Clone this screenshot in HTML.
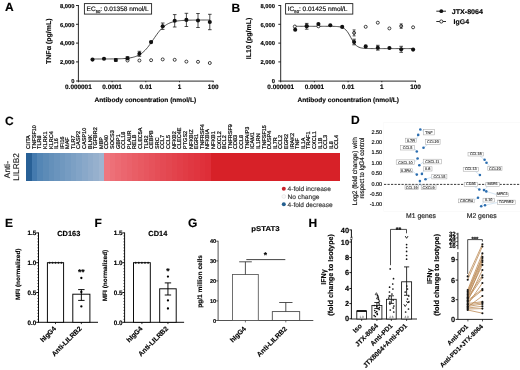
<!DOCTYPE html>
<html><head><meta charset="utf-8"><title>Figure</title>
<style>
html,body{margin:0;padding:0;background:#fff;overflow:hidden;}
svg{display:block;font-family:"Liberation Sans", Arial, sans-serif;text-rendering:geometricPrecision;}
</style></head>
<body>
<svg width="520" height="370" viewBox="0 0 520 370">
<rect width="520" height="370" fill="#fff"/>
<text x="5.10" y="11.40" font-size="12" font-weight="bold" fill="#000" stroke="#000" stroke-width="0.15">A</text>
<text x="231.40" y="11.50" font-size="12" font-weight="bold" fill="#000" stroke="#000" stroke-width="0.15">B</text>
<text x="5.00" y="124.60" font-size="12" font-weight="bold" fill="#000" stroke="#000" stroke-width="0.15">C</text>
<text x="350.90" y="124.40" font-size="12" font-weight="bold" fill="#000" stroke="#000" stroke-width="0.15">D</text>
<text x="5.10" y="227.40" font-size="12" font-weight="bold" fill="#000" stroke="#000" stroke-width="0.15">E</text>
<text x="94.60" y="227.40" font-size="12" font-weight="bold" fill="#000" stroke="#000" stroke-width="0.15">F</text>
<text x="188.10" y="227.40" font-size="12" font-weight="bold" fill="#000" stroke="#000" stroke-width="0.15">G</text>
<text x="308.50" y="227.40" font-size="12" font-weight="bold" fill="#000" stroke="#000" stroke-width="0.15">H</text>
<line x1="78.40" y1="5.00" x2="78.40" y2="81.40" stroke="#111" stroke-width="0.9"/>
<line x1="76.00" y1="5.50" x2="78.40" y2="5.50" stroke="#111" stroke-width="0.9"/>
<text x="74.50" y="7.80" font-size="5.8" font-weight="bold" text-anchor="end" stroke="#111" stroke-width="0.15">8,000</text>
<line x1="76.00" y1="24.30" x2="78.40" y2="24.30" stroke="#111" stroke-width="0.9"/>
<text x="74.50" y="26.60" font-size="5.8" font-weight="bold" text-anchor="end" stroke="#111" stroke-width="0.15">6,000</text>
<line x1="76.00" y1="43.10" x2="78.40" y2="43.10" stroke="#111" stroke-width="0.9"/>
<text x="74.50" y="45.40" font-size="5.8" font-weight="bold" text-anchor="end" stroke="#111" stroke-width="0.15">4,000</text>
<line x1="76.00" y1="61.90" x2="78.40" y2="61.90" stroke="#111" stroke-width="0.9"/>
<text x="74.50" y="64.20" font-size="5.8" font-weight="bold" text-anchor="end" stroke="#111" stroke-width="0.15">2,000</text>
<line x1="76.00" y1="81.00" x2="78.40" y2="81.00" stroke="#111" stroke-width="0.9"/>
<text x="74.50" y="83.30" font-size="5.8" font-weight="bold" text-anchor="end" stroke="#111" stroke-width="0.15">0</text>
<line x1="78.00" y1="81.10" x2="213.70" y2="81.10" stroke="#111" stroke-width="0.9"/>
<line x1="78.40" y1="81.00" x2="78.40" y2="82.30" stroke="#111" stroke-width="0.8"/>
<text x="78.40" y="88.80" font-size="6.4" font-weight="bold" text-anchor="middle" stroke="#111" stroke-width="0.15">0.000001</text>
<line x1="112.10" y1="81.00" x2="112.10" y2="82.30" stroke="#111" stroke-width="0.8"/>
<text x="112.10" y="88.80" font-size="6.4" font-weight="bold" text-anchor="middle" stroke="#111" stroke-width="0.15">0.0001</text>
<line x1="145.80" y1="81.00" x2="145.80" y2="82.30" stroke="#111" stroke-width="0.8"/>
<text x="145.80" y="88.80" font-size="6.4" font-weight="bold" text-anchor="middle" stroke="#111" stroke-width="0.15">0.01</text>
<line x1="179.50" y1="81.00" x2="179.50" y2="82.30" stroke="#111" stroke-width="0.8"/>
<text x="179.50" y="88.80" font-size="6.4" font-weight="bold" text-anchor="middle" stroke="#111" stroke-width="0.15">1</text>
<line x1="213.20" y1="81.00" x2="213.20" y2="82.30" stroke="#111" stroke-width="0.8"/>
<text x="213.20" y="88.80" font-size="6.4" font-weight="bold" text-anchor="middle" stroke="#111" stroke-width="0.15">100</text>
<text x="94.60" y="102.30" font-size="6.6" font-weight="bold" stroke="#111" stroke-width="0.15" textLength="101.5" lengthAdjust="spacingAndGlyphs">Antibody concentration (nmol/L)</text>
<text x="51.50" y="41.20" font-size="7.0" font-weight="bold" text-anchor="middle" stroke="#111" stroke-width="0.15" transform="rotate(-90 51.50 41.20)">TNFα (pg/mL)</text>
<rect x="84.40" y="3.60" width="67.20" height="10.50" fill="#fff" stroke="#222" stroke-width="0.9"/>
<text x="86.60" y="11.1" font-size="6.5" fill="#111" stroke="#111" stroke-width="0.18">EC<tspan font-size="4.2" dy="1.6">50</tspan><tspan dy="-1.6">: 0.01358 nmol/L</tspan></text>
<path d="M92.00,59.00 L93.18,59.00 L94.36,58.99 L95.54,58.99 L96.72,58.99 L97.90,58.99 L99.08,58.99 L100.26,58.99 L101.44,58.98 L102.62,58.98 L103.80,58.98 L104.98,58.97 L106.16,58.97 L107.34,58.96 L108.52,58.96 L109.70,58.95 L110.88,58.94 L112.06,58.92 L113.24,58.91 L114.42,58.89 L115.60,58.87 L116.78,58.85 L117.96,58.82 L119.14,58.78 L120.32,58.74 L121.50,58.69 L122.68,58.63 L123.86,58.55 L125.04,58.47 L126.22,58.37 L127.40,58.24 L128.58,58.10 L129.76,57.93 L130.94,57.73 L132.12,57.49 L133.30,57.20 L134.48,56.87 L135.66,56.48 L136.84,56.02 L138.02,55.49 L139.20,54.88 L140.38,54.17 L141.56,53.37 L142.74,52.45 L143.92,51.42 L145.10,50.26 L146.28,48.99 L147.46,47.61 L148.64,46.11 L149.82,44.53 L151.00,42.86 L152.18,41.15 L153.36,39.41 L154.54,37.67 L155.72,35.96 L156.90,34.31 L158.08,32.73 L159.26,31.25 L160.44,29.87 L161.62,28.61 L162.80,27.47 L163.98,26.45 L165.16,25.55 L166.34,24.75 L167.52,24.05 L168.70,23.45 L169.88,22.93 L171.06,22.48 L172.24,22.09 L173.42,21.77 L174.60,21.49 L175.78,21.25 L176.96,21.05 L178.14,20.88 L179.32,20.74 L180.50,20.62 L181.68,20.52 L182.86,20.44 L184.04,20.37 L185.22,20.31 L186.40,20.26 L187.58,20.22 L188.76,20.18 L189.94,20.15 L191.12,20.13 L192.30,20.11 L193.48,20.09 L194.66,20.07 L195.84,20.06 L197.02,20.05 L198.20,20.04 L199.38,20.04 L200.56,20.03 L201.74,20.03 L202.92,20.02 L204.10,20.02 L205.28,20.01 L206.46,20.01 L207.64,20.01 L208.82,20.01 L210.00,20.01" fill="none" stroke="#222" stroke-width="0.8"/>
<circle cx="127.50" cy="60.50" r="1.5" fill="#fff" stroke="#111" stroke-width="0.8"/>
<circle cx="139.40" cy="60.50" r="1.5" fill="#fff" stroke="#111" stroke-width="0.8"/>
<circle cx="151.10" cy="60.20" r="1.5" fill="#fff" stroke="#111" stroke-width="0.8"/>
<circle cx="162.70" cy="59.40" r="1.5" fill="#fff" stroke="#111" stroke-width="0.8"/>
<circle cx="174.70" cy="59.80" r="1.5" fill="#fff" stroke="#111" stroke-width="0.8"/>
<circle cx="186.40" cy="61.60" r="1.5" fill="#fff" stroke="#111" stroke-width="0.8"/>
<circle cx="198.00" cy="61.80" r="1.5" fill="#fff" stroke="#111" stroke-width="0.8"/>
<circle cx="209.80" cy="63.00" r="1.5" fill="#fff" stroke="#111" stroke-width="0.8"/>
<line x1="115.80" y1="58.70" x2="115.80" y2="61.30" stroke="#111" stroke-width="0.75"/>
<line x1="114.00" y1="58.70" x2="117.60" y2="58.70" stroke="#111" stroke-width="0.75"/>
<line x1="114.00" y1="61.30" x2="117.60" y2="61.30" stroke="#111" stroke-width="0.75"/>
<line x1="127.50" y1="56.70" x2="127.50" y2="59.70" stroke="#111" stroke-width="0.75"/>
<line x1="125.70" y1="56.70" x2="129.30" y2="56.70" stroke="#111" stroke-width="0.75"/>
<line x1="125.70" y1="59.70" x2="129.30" y2="59.70" stroke="#111" stroke-width="0.75"/>
<line x1="139.40" y1="51.30" x2="139.40" y2="56.30" stroke="#111" stroke-width="0.75"/>
<line x1="137.60" y1="51.30" x2="141.20" y2="51.30" stroke="#111" stroke-width="0.75"/>
<line x1="137.60" y1="56.30" x2="141.20" y2="56.30" stroke="#111" stroke-width="0.75"/>
<line x1="151.10" y1="41.30" x2="151.10" y2="42.90" stroke="#111" stroke-width="0.75"/>
<line x1="149.30" y1="41.30" x2="152.90" y2="41.30" stroke="#111" stroke-width="0.75"/>
<line x1="149.30" y1="42.90" x2="152.90" y2="42.90" stroke="#111" stroke-width="0.75"/>
<line x1="162.70" y1="23.00" x2="162.70" y2="29.40" stroke="#111" stroke-width="0.75"/>
<line x1="160.90" y1="23.00" x2="164.50" y2="23.00" stroke="#111" stroke-width="0.75"/>
<line x1="160.90" y1="29.40" x2="164.50" y2="29.40" stroke="#111" stroke-width="0.75"/>
<line x1="174.70" y1="14.60" x2="174.70" y2="27.00" stroke="#111" stroke-width="0.75"/>
<line x1="172.90" y1="14.60" x2="176.50" y2="14.60" stroke="#111" stroke-width="0.75"/>
<line x1="172.90" y1="27.00" x2="176.50" y2="27.00" stroke="#111" stroke-width="0.75"/>
<line x1="186.40" y1="13.30" x2="186.40" y2="26.50" stroke="#111" stroke-width="0.75"/>
<line x1="184.60" y1="13.30" x2="188.20" y2="13.30" stroke="#111" stroke-width="0.75"/>
<line x1="184.60" y1="26.50" x2="188.20" y2="26.50" stroke="#111" stroke-width="0.75"/>
<line x1="198.00" y1="13.50" x2="198.00" y2="27.50" stroke="#111" stroke-width="0.75"/>
<line x1="196.20" y1="13.50" x2="199.80" y2="13.50" stroke="#111" stroke-width="0.75"/>
<line x1="196.20" y1="27.50" x2="199.80" y2="27.50" stroke="#111" stroke-width="0.75"/>
<line x1="209.80" y1="14.30" x2="209.80" y2="29.70" stroke="#111" stroke-width="0.75"/>
<line x1="208.00" y1="14.30" x2="211.60" y2="14.30" stroke="#111" stroke-width="0.75"/>
<line x1="208.00" y1="29.70" x2="211.60" y2="29.70" stroke="#111" stroke-width="0.75"/>
<circle cx="92.50" cy="59.60" r="2.05" fill="#111" stroke="none" stroke-width="1"/>
<circle cx="104.00" cy="58.80" r="2.05" fill="#111" stroke="none" stroke-width="1"/>
<circle cx="115.80" cy="60.00" r="2.05" fill="#111" stroke="none" stroke-width="1"/>
<circle cx="127.50" cy="58.20" r="2.05" fill="#111" stroke="none" stroke-width="1"/>
<circle cx="139.40" cy="53.80" r="2.05" fill="#111" stroke="none" stroke-width="1"/>
<circle cx="151.10" cy="42.10" r="2.05" fill="#111" stroke="none" stroke-width="1"/>
<circle cx="162.70" cy="26.20" r="2.05" fill="#111" stroke="none" stroke-width="1"/>
<circle cx="174.70" cy="20.80" r="2.05" fill="#111" stroke="none" stroke-width="1"/>
<circle cx="186.40" cy="19.90" r="2.05" fill="#111" stroke="none" stroke-width="1"/>
<circle cx="198.00" cy="20.50" r="2.05" fill="#111" stroke="none" stroke-width="1"/>
<circle cx="209.80" cy="22.00" r="2.05" fill="#111" stroke="none" stroke-width="1"/>
<line x1="280.70" y1="5.00" x2="280.70" y2="81.40" stroke="#111" stroke-width="0.9"/>
<line x1="278.30" y1="5.50" x2="280.70" y2="5.50" stroke="#111" stroke-width="0.9"/>
<text x="274.90" y="7.80" font-size="5.8" font-weight="bold" text-anchor="end" stroke="#111" stroke-width="0.15">8,000</text>
<line x1="278.30" y1="24.30" x2="280.70" y2="24.30" stroke="#111" stroke-width="0.9"/>
<text x="274.90" y="26.60" font-size="5.8" font-weight="bold" text-anchor="end" stroke="#111" stroke-width="0.15">6,000</text>
<line x1="278.30" y1="43.10" x2="280.70" y2="43.10" stroke="#111" stroke-width="0.9"/>
<text x="274.90" y="45.40" font-size="5.8" font-weight="bold" text-anchor="end" stroke="#111" stroke-width="0.15">4,000</text>
<line x1="278.30" y1="61.90" x2="280.70" y2="61.90" stroke="#111" stroke-width="0.9"/>
<text x="274.90" y="64.20" font-size="5.8" font-weight="bold" text-anchor="end" stroke="#111" stroke-width="0.15">2,000</text>
<line x1="278.30" y1="81.00" x2="280.70" y2="81.00" stroke="#111" stroke-width="0.9"/>
<text x="274.90" y="83.30" font-size="5.8" font-weight="bold" text-anchor="end" stroke="#111" stroke-width="0.15">0</text>
<line x1="280.30" y1="81.10" x2="416.00" y2="81.10" stroke="#111" stroke-width="0.9"/>
<line x1="280.70" y1="81.00" x2="280.70" y2="82.30" stroke="#111" stroke-width="0.8"/>
<text x="280.70" y="88.80" font-size="6.4" font-weight="bold" text-anchor="middle" stroke="#111" stroke-width="0.15">0.000001</text>
<line x1="314.40" y1="81.00" x2="314.40" y2="82.30" stroke="#111" stroke-width="0.8"/>
<text x="314.40" y="88.80" font-size="6.4" font-weight="bold" text-anchor="middle" stroke="#111" stroke-width="0.15">0.0001</text>
<line x1="348.10" y1="81.00" x2="348.10" y2="82.30" stroke="#111" stroke-width="0.8"/>
<text x="348.10" y="88.80" font-size="6.4" font-weight="bold" text-anchor="middle" stroke="#111" stroke-width="0.15">0.01</text>
<line x1="381.80" y1="81.00" x2="381.80" y2="82.30" stroke="#111" stroke-width="0.8"/>
<text x="381.80" y="88.80" font-size="6.4" font-weight="bold" text-anchor="middle" stroke="#111" stroke-width="0.15">1</text>
<line x1="415.50" y1="81.00" x2="415.50" y2="82.30" stroke="#111" stroke-width="0.8"/>
<text x="415.50" y="88.80" font-size="6.4" font-weight="bold" text-anchor="middle" stroke="#111" stroke-width="0.15">100</text>
<text x="297.50" y="102.30" font-size="6.6" font-weight="bold" stroke="#111" stroke-width="0.15" textLength="101.5" lengthAdjust="spacingAndGlyphs">Antibody concentration (nmol/L)</text>
<text x="250.60" y="38.40" font-size="7.0" font-weight="bold" text-anchor="middle" stroke="#111" stroke-width="0.15" transform="rotate(-90 250.60 38.40)">IL10 (pg/mL)</text>
<rect x="285.60" y="3.60" width="67.20" height="10.50" fill="#fff" stroke="#222" stroke-width="0.9"/>
<text x="287.80" y="11.1" font-size="6.5" fill="#111" stroke="#111" stroke-width="0.18">IC<tspan font-size="4.2" dy="1.6">50</tspan><tspan dy="-1.6">: 0.01425 nmol/L</tspan></text>
<path d="M295.00,26.30 L296.19,26.30 L297.37,26.30 L298.56,26.30 L299.74,26.30 L300.93,26.30 L302.11,26.30 L303.30,26.30 L304.48,26.30 L305.67,26.30 L306.85,26.30 L308.04,26.30 L309.22,26.30 L310.40,26.30 L311.59,26.30 L312.77,26.30 L313.96,26.30 L315.14,26.30 L316.33,26.30 L317.51,26.30 L318.70,26.30 L319.88,26.30 L321.07,26.30 L322.25,26.30 L323.44,26.30 L324.62,26.30 L325.81,26.31 L327.00,26.31 L328.18,26.31 L329.37,26.32 L330.55,26.33 L331.74,26.34 L332.92,26.36 L334.11,26.39 L335.29,26.43 L336.48,26.49 L337.66,26.58 L338.85,26.71 L340.03,26.90 L341.22,27.18 L342.40,27.58 L343.58,28.15 L344.77,28.93 L345.95,30.00 L347.14,31.38 L348.32,33.09 L349.51,35.09 L350.69,37.25 L351.88,39.44 L353.06,41.47 L354.25,43.24 L355.44,44.68 L356.62,45.80 L357.81,46.63 L358.99,47.23 L360.18,47.66 L361.36,47.96 L362.55,48.16 L363.73,48.30 L364.92,48.40 L366.10,48.46 L367.28,48.51 L368.47,48.54 L369.65,48.56 L370.84,48.57 L372.02,48.58 L373.21,48.59 L374.39,48.59 L375.58,48.59 L376.76,48.60 L377.95,48.60 L379.13,48.60 L380.32,48.60 L381.50,48.60 L382.69,48.60 L383.88,48.60 L385.06,48.60 L386.25,48.60 L387.43,48.60 L388.62,48.60 L389.80,48.60 L390.99,48.60 L392.17,48.60 L393.36,48.60 L394.54,48.60 L395.73,48.60 L396.91,48.60 L398.10,48.60 L399.28,48.60 L400.47,48.60 L401.65,48.60 L402.83,48.60 L404.02,48.60 L405.20,48.60 L406.39,48.60 L407.57,48.60 L408.76,48.60 L409.94,48.60 L411.13,48.60 L412.31,48.60 L413.50,48.60" fill="none" stroke="#222" stroke-width="0.8"/>
<circle cx="294.80" cy="26.50" r="1.5" fill="#fff" stroke="#111" stroke-width="0.8"/>
<circle cx="306.70" cy="25.50" r="1.5" fill="#fff" stroke="#111" stroke-width="0.8"/>
<circle cx="318.40" cy="26.30" r="1.5" fill="#fff" stroke="#111" stroke-width="0.8"/>
<circle cx="354.10" cy="32.90" r="1.5" fill="#fff" stroke="#111" stroke-width="0.8"/>
<circle cx="365.70" cy="26.80" r="1.5" fill="#fff" stroke="#111" stroke-width="0.8"/>
<circle cx="377.80" cy="22.70" r="1.5" fill="#fff" stroke="#111" stroke-width="0.8"/>
<circle cx="389.40" cy="28.40" r="1.5" fill="#fff" stroke="#111" stroke-width="0.8"/>
<circle cx="401.20" cy="26.10" r="1.5" fill="#fff" stroke="#111" stroke-width="0.8"/>
<circle cx="413.10" cy="27.30" r="1.5" fill="#fff" stroke="#111" stroke-width="0.8"/>
<line x1="354.10" y1="29.90" x2="354.10" y2="35.90" stroke="#111" stroke-width="0.7"/>
<line x1="352.60" y1="29.90" x2="355.60" y2="29.90" stroke="#111" stroke-width="0.7"/>
<line x1="352.60" y1="35.90" x2="355.60" y2="35.90" stroke="#111" stroke-width="0.7"/>
<line x1="401.20" y1="23.90" x2="401.20" y2="28.30" stroke="#111" stroke-width="0.7"/>
<line x1="399.70" y1="23.90" x2="402.70" y2="23.90" stroke="#111" stroke-width="0.7"/>
<line x1="399.70" y1="28.30" x2="402.70" y2="28.30" stroke="#111" stroke-width="0.7"/>
<line x1="306.70" y1="23.40" x2="306.70" y2="29.20" stroke="#111" stroke-width="0.75"/>
<line x1="304.90" y1="23.40" x2="308.50" y2="23.40" stroke="#111" stroke-width="0.75"/>
<line x1="304.90" y1="29.20" x2="308.50" y2="29.20" stroke="#111" stroke-width="0.75"/>
<line x1="354.10" y1="39.20" x2="354.10" y2="44.80" stroke="#111" stroke-width="0.75"/>
<line x1="352.30" y1="39.20" x2="355.90" y2="39.20" stroke="#111" stroke-width="0.75"/>
<line x1="352.30" y1="44.80" x2="355.90" y2="44.80" stroke="#111" stroke-width="0.75"/>
<line x1="377.80" y1="45.30" x2="377.80" y2="50.10" stroke="#111" stroke-width="0.75"/>
<line x1="376.00" y1="45.30" x2="379.60" y2="45.30" stroke="#111" stroke-width="0.75"/>
<line x1="376.00" y1="50.10" x2="379.60" y2="50.10" stroke="#111" stroke-width="0.75"/>
<line x1="401.20" y1="46.30" x2="401.20" y2="52.30" stroke="#111" stroke-width="0.75"/>
<line x1="399.40" y1="46.30" x2="403.00" y2="46.30" stroke="#111" stroke-width="0.75"/>
<line x1="399.40" y1="52.30" x2="403.00" y2="52.30" stroke="#111" stroke-width="0.75"/>
<circle cx="295.20" cy="29.80" r="2.05" fill="#111" stroke="none" stroke-width="1"/>
<circle cx="306.70" cy="26.30" r="2.05" fill="#111" stroke="none" stroke-width="1"/>
<circle cx="318.40" cy="24.00" r="2.05" fill="#111" stroke="none" stroke-width="1"/>
<circle cx="330.30" cy="25.20" r="2.05" fill="#111" stroke="none" stroke-width="1"/>
<circle cx="342.20" cy="26.90" r="2.05" fill="#111" stroke="none" stroke-width="1"/>
<circle cx="354.10" cy="42.00" r="2.05" fill="#111" stroke="none" stroke-width="1"/>
<circle cx="365.70" cy="46.40" r="2.05" fill="#111" stroke="none" stroke-width="1"/>
<circle cx="377.80" cy="47.70" r="2.05" fill="#111" stroke="none" stroke-width="1"/>
<circle cx="389.40" cy="48.00" r="2.05" fill="#111" stroke="none" stroke-width="1"/>
<circle cx="401.20" cy="49.30" r="2.05" fill="#111" stroke="none" stroke-width="1"/>
<circle cx="413.10" cy="49.60" r="2.05" fill="#111" stroke="none" stroke-width="1"/>
<line x1="436.30" y1="11.20" x2="446.00" y2="11.20" stroke="#111" stroke-width="0.9"/>
<circle cx="441.30" cy="11.20" r="1.9" fill="#111" stroke="none" stroke-width="1"/>
<text x="451.70" y="13.50" font-size="6.8" font-weight="bold" stroke="#111" stroke-width="0.15" textLength="31.3" lengthAdjust="spacingAndGlyphs">JTX-8064</text>
<line x1="436.30" y1="21.50" x2="446.00" y2="21.50" stroke="#111" stroke-width="0.9"/>
<circle cx="441.30" cy="21.50" r="1.6" fill="#fff" stroke="#111" stroke-width="0.8"/>
<text x="453.60" y="23.80" font-size="6.8" font-weight="bold" stroke="#111" stroke-width="0.15" textLength="15.4" lengthAdjust="spacingAndGlyphs">IgG4</text>
<rect x="26.25" y="153.2" width="6.17" height="27.40" fill="rgb(40, 96, 150)" shape-rendering="crispEdges"/>
<rect x="31.82" y="153.2" width="6.17" height="27.40" fill="rgb(68, 122, 174)" shape-rendering="crispEdges"/>
<rect x="37.39" y="153.2" width="6.17" height="27.40" fill="rgb(84, 134, 181)" shape-rendering="crispEdges"/>
<rect x="42.95" y="153.2" width="6.17" height="27.40" fill="rgb(92, 139, 183)" shape-rendering="crispEdges"/>
<rect x="48.52" y="153.2" width="6.17" height="27.40" fill="rgb(100, 144, 186)" shape-rendering="crispEdges"/>
<rect x="54.09" y="153.2" width="6.17" height="27.40" fill="rgb(106, 148, 189)" shape-rendering="crispEdges"/>
<rect x="59.66" y="153.2" width="6.17" height="27.40" fill="rgb(112, 152, 191)" shape-rendering="crispEdges"/>
<rect x="65.22" y="153.2" width="6.17" height="27.40" fill="rgb(118, 156, 194)" shape-rendering="crispEdges"/>
<rect x="70.79" y="153.2" width="6.17" height="27.40" fill="rgb(124, 160, 196)" shape-rendering="crispEdges"/>
<rect x="76.36" y="153.2" width="6.17" height="27.40" fill="rgb(130, 164, 199)" shape-rendering="crispEdges"/>
<rect x="81.93" y="153.2" width="6.17" height="27.40" fill="rgb(137, 168, 201)" shape-rendering="crispEdges"/>
<rect x="87.50" y="153.2" width="6.17" height="27.40" fill="rgb(144, 172, 203)" shape-rendering="crispEdges"/>
<rect x="93.06" y="153.2" width="6.17" height="27.40" fill="rgb(150, 176, 205)" shape-rendering="crispEdges"/>
<rect x="98.63" y="153.2" width="6.17" height="27.40" fill="rgb(158, 181, 208)" shape-rendering="crispEdges"/>
<rect x="104.20" y="153.2" width="6.21" height="27.40" fill="rgb(238, 118, 126)" shape-rendering="crispEdges"/>
<rect x="109.81" y="153.2" width="6.21" height="27.40" fill="rgb(237, 112, 120)" shape-rendering="crispEdges"/>
<rect x="115.43" y="153.2" width="6.21" height="27.40" fill="rgb(236, 107, 115)" shape-rendering="crispEdges"/>
<rect x="121.04" y="153.2" width="6.21" height="27.40" fill="rgb(235, 102, 111)" shape-rendering="crispEdges"/>
<rect x="126.66" y="153.2" width="6.21" height="27.40" fill="rgb(234, 98, 107)" shape-rendering="crispEdges"/>
<rect x="132.27" y="153.2" width="6.21" height="27.40" fill="rgb(233, 94, 102)" shape-rendering="crispEdges"/>
<rect x="137.89" y="153.2" width="6.21" height="27.40" fill="rgb(232, 90, 98)" shape-rendering="crispEdges"/>
<rect x="143.50" y="153.2" width="6.21" height="27.40" fill="rgb(231, 86, 95)" shape-rendering="crispEdges"/>
<rect x="149.11" y="153.2" width="6.21" height="27.40" fill="rgb(230, 82, 91)" shape-rendering="crispEdges"/>
<rect x="154.73" y="153.2" width="6.21" height="27.40" fill="rgb(229, 78, 87)" shape-rendering="crispEdges"/>
<rect x="160.34" y="153.2" width="6.21" height="27.40" fill="rgb(228, 74, 84)" shape-rendering="crispEdges"/>
<rect x="165.96" y="153.2" width="6.21" height="27.40" fill="rgb(227, 71, 80)" shape-rendering="crispEdges"/>
<rect x="171.57" y="153.2" width="6.21" height="27.40" fill="rgb(227, 67, 76)" shape-rendering="crispEdges"/>
<rect x="177.19" y="153.2" width="6.21" height="27.40" fill="rgb(226, 63, 73)" shape-rendering="crispEdges"/>
<rect x="182.80" y="153.2" width="6.21" height="27.40" fill="rgb(225, 60, 69)" shape-rendering="crispEdges"/>
<rect x="188.41" y="153.2" width="6.21" height="27.40" fill="rgb(224, 56, 66)" shape-rendering="crispEdges"/>
<rect x="194.03" y="153.2" width="6.21" height="27.40" fill="rgb(224, 53, 63)" shape-rendering="crispEdges"/>
<rect x="199.64" y="153.2" width="6.21" height="27.40" fill="rgb(223, 49, 59)" shape-rendering="crispEdges"/>
<rect x="205.26" y="153.2" width="6.21" height="27.40" fill="rgb(222, 46, 56)" shape-rendering="crispEdges"/>
<rect x="210.87" y="153.2" width="6.21" height="27.40" fill="rgb(215, 33, 40)" shape-rendering="crispEdges"/>
<rect x="216.49" y="153.2" width="6.21" height="27.40" fill="rgb(215, 33, 40)" shape-rendering="crispEdges"/>
<rect x="222.10" y="153.2" width="6.21" height="27.40" fill="rgb(215, 33, 40)" shape-rendering="crispEdges"/>
<rect x="227.71" y="153.2" width="6.21" height="27.40" fill="rgb(215, 33, 40)" shape-rendering="crispEdges"/>
<rect x="233.33" y="153.2" width="6.21" height="27.40" fill="rgb(215, 33, 40)" shape-rendering="crispEdges"/>
<rect x="238.94" y="153.2" width="6.21" height="27.40" fill="rgb(215, 33, 40)" shape-rendering="crispEdges"/>
<rect x="244.56" y="153.2" width="6.21" height="27.40" fill="rgb(215, 33, 40)" shape-rendering="crispEdges"/>
<rect x="250.17" y="153.2" width="6.21" height="27.40" fill="rgb(215, 33, 40)" shape-rendering="crispEdges"/>
<rect x="255.79" y="153.2" width="6.21" height="27.40" fill="rgb(215, 33, 40)" shape-rendering="crispEdges"/>
<rect x="261.40" y="153.2" width="6.21" height="27.40" fill="rgb(215, 33, 40)" shape-rendering="crispEdges"/>
<rect x="267.01" y="153.2" width="6.21" height="27.40" fill="rgb(215, 33, 40)" shape-rendering="crispEdges"/>
<rect x="272.63" y="153.2" width="6.21" height="27.40" fill="rgb(215, 33, 40)" shape-rendering="crispEdges"/>
<rect x="278.24" y="153.2" width="6.21" height="27.40" fill="rgb(215, 33, 40)" shape-rendering="crispEdges"/>
<rect x="283.86" y="153.2" width="6.21" height="27.40" fill="rgb(215, 33, 40)" shape-rendering="crispEdges"/>
<rect x="289.47" y="153.2" width="6.21" height="27.40" fill="rgb(215, 33, 40)" shape-rendering="crispEdges"/>
<rect x="295.09" y="153.2" width="6.21" height="27.40" fill="rgb(215, 33, 40)" shape-rendering="crispEdges"/>
<rect x="300.70" y="153.2" width="6.21" height="27.40" fill="rgb(215, 33, 40)" shape-rendering="crispEdges"/>
<rect x="306.31" y="153.2" width="6.21" height="27.40" fill="rgb(215, 33, 40)" shape-rendering="crispEdges"/>
<rect x="311.93" y="153.2" width="6.21" height="27.40" fill="rgb(215, 33, 40)" shape-rendering="crispEdges"/>
<rect x="317.54" y="153.2" width="6.21" height="27.40" fill="rgb(215, 33, 40)" shape-rendering="crispEdges"/>
<rect x="323.16" y="153.2" width="6.21" height="27.40" fill="rgb(215, 33, 40)" shape-rendering="crispEdges"/>
<rect x="328.77" y="153.2" width="6.21" height="27.40" fill="rgb(215, 33, 40)" shape-rendering="crispEdges"/>
<rect x="334.39" y="153.2" width="5.61" height="27.40" fill="rgb(215, 33, 40)" shape-rendering="crispEdges"/>
<text x="30.33" y="148.90" font-size="5.5" stroke="#111" stroke-width="0.22" transform="rotate(-90 30.33 148.90)">CIITA</text>
<text x="35.90" y="148.90" font-size="5.5" stroke="#111" stroke-width="0.22" transform="rotate(-90 35.90 148.90)">TNFSF10</text>
<text x="41.47" y="148.90" font-size="5.5" stroke="#111" stroke-width="0.22" transform="rotate(-90 41.47 148.90)">TLR8</text>
<text x="47.04" y="148.90" font-size="5.5" stroke="#111" stroke-width="0.22" transform="rotate(-90 47.04 148.90)">KLRK1</text>
<text x="52.61" y="148.90" font-size="5.5" stroke="#111" stroke-width="0.22" transform="rotate(-90 52.61 148.90)">KLRC4</text>
<text x="58.17" y="148.90" font-size="5.5" stroke="#111" stroke-width="0.22" transform="rotate(-90 58.17 148.90)">IL16</text>
<text x="63.74" y="148.90" font-size="5.5" stroke="#111" stroke-width="0.22" transform="rotate(-90 63.74 148.90)">IFI16</text>
<text x="69.31" y="148.90" font-size="5.5" stroke="#111" stroke-width="0.22" transform="rotate(-90 69.31 148.90)">MAF</text>
<text x="74.88" y="148.90" font-size="5.5" stroke="#111" stroke-width="0.22" transform="rotate(-90 74.88 148.90)">TLR7</text>
<text x="80.44" y="148.90" font-size="5.5" stroke="#111" stroke-width="0.22" transform="rotate(-90 80.44 148.90)">CASP2</text>
<text x="86.01" y="148.90" font-size="5.5" stroke="#111" stroke-width="0.22" transform="rotate(-90 86.01 148.90)">CASP10</text>
<text x="91.58" y="148.90" font-size="5.5" stroke="#111" stroke-width="0.22" transform="rotate(-90 91.58 148.90)">BLNK</text>
<text x="97.15" y="148.90" font-size="5.5" stroke="#111" stroke-width="0.22" transform="rotate(-90 97.15 148.90)">TGFBR2</text>
<text x="102.72" y="148.90" font-size="5.5" stroke="#111" stroke-width="0.22" transform="rotate(-90 102.72 148.90)">MBP</text>
<text x="108.31" y="148.90" font-size="5.5" stroke="#111" stroke-width="0.22" transform="rotate(-90 108.31 148.90)">CD40</text>
<text x="113.92" y="148.90" font-size="5.5" stroke="#111" stroke-width="0.22" transform="rotate(-90 113.92 148.90)">SOCS3</text>
<text x="119.54" y="148.90" font-size="5.5" stroke="#111" stroke-width="0.22" transform="rotate(-90 119.54 148.90)">GBP1</text>
<text x="125.15" y="148.90" font-size="5.5" stroke="#111" stroke-width="0.22" transform="rotate(-90 125.15 148.90)">CCL18</text>
<text x="130.76" y="148.90" font-size="5.5" stroke="#111" stroke-width="0.22" transform="rotate(-90 130.76 148.90)">PLAUR</text>
<text x="136.38" y="148.90" font-size="5.5" stroke="#111" stroke-width="0.22" transform="rotate(-90 136.38 148.90)">RELB</text>
<text x="141.99" y="148.90" font-size="5.5" stroke="#111" stroke-width="0.22" transform="rotate(-90 141.99 148.90)">CLEC5A</text>
<text x="147.61" y="148.90" font-size="5.5" stroke="#111" stroke-width="0.22" transform="rotate(-90 147.61 148.90)">TLR2</text>
<text x="153.22" y="148.90" font-size="5.5" stroke="#111" stroke-width="0.22" transform="rotate(-90 153.22 148.90)">CEBPB</text>
<text x="158.84" y="148.90" font-size="5.5" stroke="#111" stroke-width="0.22" transform="rotate(-90 158.84 148.90)">SRC</text>
<text x="164.45" y="148.90" font-size="5.5" stroke="#111" stroke-width="0.22" transform="rotate(-90 164.45 148.90)">CCL7</text>
<text x="170.06" y="148.90" font-size="5.5" stroke="#111" stroke-width="0.22" transform="rotate(-90 170.06 148.90)">CCL5</text>
<text x="175.68" y="148.90" font-size="5.5" stroke="#111" stroke-width="0.22" transform="rotate(-90 175.68 148.90)">NFKB2</text>
<text x="181.29" y="148.90" font-size="5.5" stroke="#111" stroke-width="0.22" transform="rotate(-90 181.29 148.90)">CLEC4E</text>
<text x="186.91" y="148.90" font-size="5.5" stroke="#111" stroke-width="0.22" transform="rotate(-90 186.91 148.90)">PTGS2</text>
<text x="192.52" y="148.90" font-size="5.5" stroke="#111" stroke-width="0.22" transform="rotate(-90 192.52 148.90)">NFKBIZ</text>
<text x="198.14" y="148.90" font-size="5.5" stroke="#111" stroke-width="0.22" transform="rotate(-90 198.14 148.90)">EGR1</text>
<text x="203.75" y="148.90" font-size="5.5" stroke="#111" stroke-width="0.22" transform="rotate(-90 203.75 148.90)">TNFRSF4</text>
<text x="209.36" y="148.90" font-size="5.5" stroke="#111" stroke-width="0.22" transform="rotate(-90 209.36 148.90)">NFKBIA</text>
<text x="214.98" y="148.90" font-size="5.5" stroke="#111" stroke-width="0.22" transform="rotate(-90 214.98 148.90)">NFKB1</text>
<text x="220.59" y="148.90" font-size="5.5" stroke="#111" stroke-width="0.22" transform="rotate(-90 220.59 148.90)">CXCL2</text>
<text x="226.21" y="148.90" font-size="5.5" stroke="#111" stroke-width="0.22" transform="rotate(-90 226.21 148.90)">BCL2</text>
<text x="231.82" y="148.90" font-size="5.5" stroke="#111" stroke-width="0.22" transform="rotate(-90 231.82 148.90)">TNFRSF9</text>
<text x="237.44" y="148.90" font-size="5.5" stroke="#111" stroke-width="0.22" transform="rotate(-90 237.44 148.90)">CD83</text>
<text x="243.05" y="148.90" font-size="5.5" stroke="#111" stroke-width="0.22" transform="rotate(-90 243.05 148.90)">CCL8</text>
<text x="248.66" y="148.90" font-size="5.5" stroke="#111" stroke-width="0.22" transform="rotate(-90 248.66 148.90)">TNFAIP3</text>
<text x="254.28" y="148.90" font-size="5.5" stroke="#111" stroke-width="0.22" transform="rotate(-90 254.28 148.90)">ICAM1</text>
<text x="259.89" y="148.90" font-size="5.5" stroke="#111" stroke-width="0.22" transform="rotate(-90 259.89 148.90)">IL1RN</text>
<text x="265.51" y="148.90" font-size="5.5" stroke="#111" stroke-width="0.22" transform="rotate(-90 265.51 148.90)">TNFSF15</text>
<text x="271.12" y="148.90" font-size="5.5" stroke="#111" stroke-width="0.22" transform="rotate(-90 271.12 148.90)">DUSP4</text>
<text x="276.74" y="148.90" font-size="5.5" stroke="#111" stroke-width="0.22" transform="rotate(-90 276.74 148.90)">IL7R</text>
<text x="282.35" y="148.90" font-size="5.5" stroke="#111" stroke-width="0.22" transform="rotate(-90 282.35 148.90)">CCL2</text>
<text x="287.96" y="148.90" font-size="5.5" stroke="#111" stroke-width="0.22" transform="rotate(-90 287.96 148.90)">EGR2</text>
<text x="293.58" y="148.90" font-size="5.5" stroke="#111" stroke-width="0.22" transform="rotate(-90 293.58 148.90)">IRAK2</text>
<text x="299.19" y="148.90" font-size="5.5" stroke="#111" stroke-width="0.22" transform="rotate(-90 299.19 148.90)">TNF</text>
<text x="304.81" y="148.90" font-size="5.5" stroke="#111" stroke-width="0.22" transform="rotate(-90 304.81 148.90)">IL1A</text>
<text x="310.42" y="148.90" font-size="5.5" stroke="#111" stroke-width="0.22" transform="rotate(-90 310.42 148.90)">TRAF1</text>
<text x="316.04" y="148.90" font-size="5.5" stroke="#111" stroke-width="0.22" transform="rotate(-90 316.04 148.90)">CXCL1</text>
<text x="321.65" y="148.90" font-size="5.5" stroke="#111" stroke-width="0.22" transform="rotate(-90 321.65 148.90)">IL1B</text>
<text x="327.26" y="148.90" font-size="5.5" stroke="#111" stroke-width="0.22" transform="rotate(-90 327.26 148.90)">CCL3</text>
<text x="332.88" y="148.90" font-size="5.5" stroke="#111" stroke-width="0.22" transform="rotate(-90 332.88 148.90)">IL8</text>
<text x="338.49" y="148.90" font-size="5.5" stroke="#111" stroke-width="0.22" transform="rotate(-90 338.49 148.90)">CCL4</text>
<text x="9.70" y="169.60" font-size="8.3" text-anchor="middle" fill="#1a1a1a" stroke="#1a1a1a" stroke-width="0.15" transform="rotate(-90 9.70 169.60)">Anti-</text>
<text x="19.20" y="167.00" font-size="8.3" text-anchor="middle" fill="#1a1a1a" stroke="#1a1a1a" stroke-width="0.15" transform="rotate(-90 19.20 167.00)">LILRB2</text>
<circle cx="283.80" cy="188.80" r="2.0" fill="#c8232b" stroke="none" stroke-width="1"/>
<circle cx="283.80" cy="196.50" r="1.9" fill="#fafafa" stroke="#d8d8d8" stroke-width="0.5"/>
<circle cx="283.80" cy="204.30" r="2.0" fill="#245f8f" stroke="none" stroke-width="1"/>
<text x="287.60" y="191.00" font-size="6.6" fill="#333" stroke="#333" stroke-width="0.15" textLength="43.2" lengthAdjust="spacingAndGlyphs">4-fold increase</text>
<text x="287.60" y="198.70" font-size="6.6" fill="#333" stroke="#333" stroke-width="0.15">No change</text>
<text x="287.60" y="206.50" font-size="6.6" fill="#333" stroke="#333" stroke-width="0.15" textLength="45" lengthAdjust="spacingAndGlyphs">4-fold decrease</text>
<rect x="383.80" y="122.50" width="140.00" height="88.80" fill="none" stroke="#f7f7f7" stroke-width="0.6"/>
<text x="382.20" y="133.60" font-size="5.5" text-anchor="end" fill="#000" stroke="#000" stroke-width="0.15">2.50</text>
<text x="382.20" y="144.00" font-size="5.5" text-anchor="end" fill="#000" stroke="#000" stroke-width="0.15">2.00</text>
<text x="382.20" y="154.40" font-size="5.5" text-anchor="end" fill="#000" stroke="#000" stroke-width="0.15">1.50</text>
<text x="382.20" y="164.80" font-size="5.5" text-anchor="end" fill="#000" stroke="#000" stroke-width="0.15">1.00</text>
<text x="382.20" y="175.20" font-size="5.5" text-anchor="end" fill="#000" stroke="#000" stroke-width="0.15">0.50</text>
<text x="382.20" y="185.60" font-size="5.5" text-anchor="end" fill="#000" stroke="#000" stroke-width="0.15">0.00</text>
<text x="382.20" y="196.00" font-size="5.5" text-anchor="end" fill="#000" stroke="#000" stroke-width="0.15">-0.50</text>
<text x="382.20" y="206.40" font-size="5.5" text-anchor="end" fill="#000" stroke="#000" stroke-width="0.15">-1.00</text>
<text x="356.80" y="137.20" font-size="6.6" text-anchor="end" stroke="#111" stroke-width="0.15" textLength="68" lengthAdjust="spacingAndGlyphs" transform="rotate(-90 356.80 137.20)">Log2 (fold change) with</text>
<text x="363.80" y="137.60" font-size="6.6" text-anchor="end" stroke="#111" stroke-width="0.15" textLength="61" lengthAdjust="spacingAndGlyphs" transform="rotate(-90 363.80 137.60)">respect to IgG4 control</text>
<line x1="384.00" y1="184.40" x2="520.00" y2="184.40" stroke="#222" stroke-width="0.9" stroke-dasharray="2.2,1.3"/>
<text x="421.00" y="217.60" font-size="6.8" text-anchor="middle" fill="#222" stroke="#222" stroke-width="0.15">M1 genes</text>
<text x="481.70" y="217.60" font-size="6.8" text-anchor="middle" fill="#222" stroke="#222" stroke-width="0.15">M2 genes</text>
<rect x="423.60" y="129.50" width="10.70" height="5.40" fill="#fff" stroke="#a0a0a0" stroke-width="0.5"/>
<text x="428.95" y="133.90" font-size="3.8" text-anchor="middle" fill="#333" stroke="#333" stroke-width="0.12">TNF</text>
<rect x="405.70" y="138.20" width="10.50" height="4.50" fill="#fff" stroke="#a0a0a0" stroke-width="0.5"/>
<text x="410.95" y="141.70" font-size="3.8" text-anchor="middle" fill="#333" stroke="#333" stroke-width="0.12">IL7R</text>
<rect x="425.70" y="139.60" width="14.40" height="4.70" fill="#fff" stroke="#a0a0a0" stroke-width="0.5"/>
<text x="432.90" y="143.30" font-size="3.8" text-anchor="middle" fill="#333" stroke="#333" stroke-width="0.12">CCL20</text>
<rect x="400.50" y="145.40" width="14.00" height="4.60" fill="#fff" stroke="#a0a0a0" stroke-width="0.5"/>
<text x="407.50" y="149.00" font-size="3.8" text-anchor="middle" fill="#333" stroke="#333" stroke-width="0.12">CCL5</text>
<rect x="396.20" y="159.90" width="18.50" height="4.70" fill="#fff" stroke="#a0a0a0" stroke-width="0.5"/>
<text x="405.45" y="163.60" font-size="3.8" text-anchor="middle" fill="#333" stroke="#333" stroke-width="0.12">CXCL10</text>
<rect x="423.20" y="159.20" width="18.30" height="4.70" fill="#fff" stroke="#a0a0a0" stroke-width="0.5"/>
<text x="432.35" y="162.90" font-size="3.8" text-anchor="middle" fill="#333" stroke="#333" stroke-width="0.12">CXCL11</text>
<rect x="400.30" y="168.80" width="12.10" height="4.00" fill="#fff" stroke="#a0a0a0" stroke-width="0.5"/>
<text x="406.35" y="171.80" font-size="3.8" text-anchor="middle" fill="#333" stroke="#333" stroke-width="0.12">IL2RA</text>
<rect x="423.50" y="166.80" width="8.50" height="4.20" fill="#fff" stroke="#a0a0a0" stroke-width="0.5"/>
<text x="427.75" y="170.00" font-size="3.8" text-anchor="middle" fill="#333" stroke="#333" stroke-width="0.12">IL8</text>
<rect x="431.80" y="174.60" width="15.10" height="4.30" fill="#fff" stroke="#a0a0a0" stroke-width="0.5"/>
<text x="439.35" y="177.90" font-size="3.8" text-anchor="middle" fill="#333" stroke="#333" stroke-width="0.12">CCL15</text>
<rect x="405.00" y="185.00" width="13.50" height="4.50" fill="#fff" stroke="#a0a0a0" stroke-width="0.5"/>
<text x="411.75" y="188.50" font-size="3.8" text-anchor="middle" fill="#333" stroke="#333" stroke-width="0.12">CCL19</text>
<rect x="421.20" y="185.00" width="14.80" height="4.50" fill="#fff" stroke="#a0a0a0" stroke-width="0.5"/>
<text x="428.60" y="188.50" font-size="3.8" text-anchor="middle" fill="#333" stroke="#333" stroke-width="0.12">CXCL9</text>
<rect x="468.00" y="152.30" width="15.60" height="3.70" fill="#fff" stroke="#a0a0a0" stroke-width="0.5"/>
<text x="475.80" y="155.00" font-size="3.8" text-anchor="middle" fill="#333" stroke="#333" stroke-width="0.12">CCL18</text>
<rect x="487.80" y="166.50" width="14.20" height="4.10" fill="#fff" stroke="#a0a0a0" stroke-width="0.5"/>
<text x="494.90" y="169.60" font-size="3.8" text-anchor="middle" fill="#333" stroke="#333" stroke-width="0.12">CCL23</text>
<rect x="463.20" y="167.40" width="15.20" height="3.80" fill="#fff" stroke="#a0a0a0" stroke-width="0.5"/>
<text x="470.80" y="170.20" font-size="3.8" text-anchor="middle" fill="#333" stroke="#333" stroke-width="0.12">CCL13</text>
<rect x="464.20" y="182.50" width="13.20" height="3.80" fill="#fff" stroke="#a0a0a0" stroke-width="0.5"/>
<text x="470.80" y="185.30" font-size="3.8" text-anchor="middle" fill="#333" stroke="#333" stroke-width="0.12">CD36</text>
<rect x="485.90" y="182.50" width="13.60" height="3.80" fill="#fff" stroke="#a0a0a0" stroke-width="0.5"/>
<text x="492.70" y="185.30" font-size="3.8" text-anchor="middle" fill="#333" stroke="#333" stroke-width="0.12">MSR1</text>
<rect x="496.30" y="192.90" width="12.30" height="3.40" fill="#fff" stroke="#a0a0a0" stroke-width="0.5"/>
<text x="502.45" y="195.30" font-size="3.8" text-anchor="middle" fill="#333" stroke="#333" stroke-width="0.12">MRC1</text>
<rect x="458.50" y="199.00" width="15.70" height="3.80" fill="#fff" stroke="#a0a0a0" stroke-width="0.5"/>
<text x="466.35" y="201.80" font-size="3.8" text-anchor="middle" fill="#333" stroke="#333" stroke-width="0.12">CXCR4</text>
<rect x="483.00" y="198.20" width="11.40" height="3.80" fill="#fff" stroke="#a0a0a0" stroke-width="0.5"/>
<text x="488.70" y="201.00" font-size="3.8" text-anchor="middle" fill="#333" stroke="#333" stroke-width="0.12">IL10</text>
<rect x="497.30" y="200.10" width="17.90" height="4.20" fill="#fff" stroke="#a0a0a0" stroke-width="0.5"/>
<text x="506.25" y="203.30" font-size="3.8" text-anchor="middle" fill="#333" stroke="#333" stroke-width="0.12">TGFBR2</text>
<line x1="420.30" y1="129.50" x2="423.60" y2="131.50" stroke="#b9d3ea" stroke-width="0.6"/>
<line x1="418.20" y1="134.90" x2="416.20" y2="140.00" stroke="#b9d3ea" stroke-width="0.6"/>
<line x1="423.50" y1="147.70" x2="428.00" y2="144.30" stroke="#b9d3ea" stroke-width="0.6"/>
<line x1="416.80" y1="151.50" x2="414.50" y2="148.50" stroke="#b9d3ea" stroke-width="0.6"/>
<line x1="417.60" y1="158.50" x2="414.70" y2="162.00" stroke="#b9d3ea" stroke-width="0.6"/>
<line x1="419.30" y1="165.30" x2="423.20" y2="162.00" stroke="#b9d3ea" stroke-width="0.6"/>
<line x1="416.80" y1="174.60" x2="412.40" y2="171.00" stroke="#b9d3ea" stroke-width="0.6"/>
<line x1="421.90" y1="173.90" x2="424.00" y2="170.50" stroke="#b9d3ea" stroke-width="0.6"/>
<line x1="425.50" y1="179.30" x2="431.80" y2="177.00" stroke="#b9d3ea" stroke-width="0.6"/>
<line x1="419.90" y1="181.00" x2="418.50" y2="186.00" stroke="#b9d3ea" stroke-width="0.6"/>
<line x1="419.90" y1="181.00" x2="421.20" y2="186.00" stroke="#b9d3ea" stroke-width="0.6"/>
<line x1="484.60" y1="159.80" x2="480.00" y2="156.00" stroke="#b9d3ea" stroke-width="0.6"/>
<line x1="486.50" y1="162.70" x2="490.00" y2="166.50" stroke="#b9d3ea" stroke-width="0.6"/>
<line x1="479.90" y1="175.00" x2="475.00" y2="171.20" stroke="#b9d3ea" stroke-width="0.6"/>
<line x1="479.30" y1="189.50" x2="474.00" y2="186.30" stroke="#b9d3ea" stroke-width="0.6"/>
<line x1="484.00" y1="190.10" x2="488.00" y2="186.30" stroke="#b9d3ea" stroke-width="0.6"/>
<line x1="486.30" y1="191.40" x2="496.30" y2="194.50" stroke="#b9d3ea" stroke-width="0.6"/>
<line x1="478.00" y1="197.70" x2="474.20" y2="200.00" stroke="#b9d3ea" stroke-width="0.6"/>
<line x1="481.20" y1="206.20" x2="483.50" y2="202.00" stroke="#b9d3ea" stroke-width="0.6"/>
<line x1="485.00" y1="205.20" x2="497.30" y2="202.50" stroke="#b9d3ea" stroke-width="0.6"/>
<circle cx="420.30" cy="129.50" r="1.3" fill="#2c6eb0" stroke="none" stroke-width="1"/>
<circle cx="418.20" cy="134.90" r="1.3" fill="#2c6eb0" stroke="none" stroke-width="1"/>
<circle cx="423.50" cy="147.70" r="1.3" fill="#2c6eb0" stroke="none" stroke-width="1"/>
<circle cx="416.80" cy="151.50" r="1.3" fill="#2c6eb0" stroke="none" stroke-width="1"/>
<circle cx="417.60" cy="158.50" r="1.3" fill="#2c6eb0" stroke="none" stroke-width="1"/>
<circle cx="419.30" cy="165.30" r="1.3" fill="#2c6eb0" stroke="none" stroke-width="1"/>
<circle cx="416.80" cy="174.60" r="1.3" fill="#2c6eb0" stroke="none" stroke-width="1"/>
<circle cx="421.90" cy="173.90" r="1.3" fill="#2c6eb0" stroke="none" stroke-width="1"/>
<circle cx="425.50" cy="179.30" r="1.3" fill="#2c6eb0" stroke="none" stroke-width="1"/>
<circle cx="419.90" cy="181.00" r="1.3" fill="#2c6eb0" stroke="none" stroke-width="1"/>
<circle cx="484.60" cy="159.80" r="1.3" fill="#2c6eb0" stroke="none" stroke-width="1"/>
<circle cx="486.50" cy="162.70" r="1.3" fill="#2c6eb0" stroke="none" stroke-width="1"/>
<circle cx="479.90" cy="175.00" r="1.3" fill="#2c6eb0" stroke="none" stroke-width="1"/>
<circle cx="479.30" cy="189.50" r="1.3" fill="#2c6eb0" stroke="none" stroke-width="1"/>
<circle cx="484.00" cy="190.10" r="1.3" fill="#2c6eb0" stroke="none" stroke-width="1"/>
<circle cx="486.30" cy="191.40" r="1.3" fill="#2c6eb0" stroke="none" stroke-width="1"/>
<circle cx="478.00" cy="197.70" r="1.3" fill="#2c6eb0" stroke="none" stroke-width="1"/>
<circle cx="481.20" cy="206.20" r="1.3" fill="#2c6eb0" stroke="none" stroke-width="1"/>
<circle cx="485.00" cy="205.20" r="1.3" fill="#2c6eb0" stroke="none" stroke-width="1"/>
<line x1="38.50" y1="232.50" x2="38.50" y2="322.70" stroke="#000" stroke-width="0.95"/>
<line x1="36.20" y1="232.90" x2="38.50" y2="232.90" stroke="#000" stroke-width="0.95"/>
<text x="36.30" y="235.10" font-size="6.3" font-weight="bold" text-anchor="end" fill="#000" stroke="#000" stroke-width="0.15">1.5</text>
<line x1="36.20" y1="262.70" x2="38.50" y2="262.70" stroke="#000" stroke-width="0.95"/>
<text x="36.30" y="264.90" font-size="6.3" font-weight="bold" text-anchor="end" fill="#000" stroke="#000" stroke-width="0.15">1.0</text>
<line x1="36.20" y1="292.50" x2="38.50" y2="292.50" stroke="#000" stroke-width="0.95"/>
<text x="36.30" y="294.70" font-size="6.3" font-weight="bold" text-anchor="end" fill="#000" stroke="#000" stroke-width="0.15">0.5</text>
<line x1="36.20" y1="322.30" x2="38.50" y2="322.30" stroke="#000" stroke-width="0.95"/>
<text x="36.30" y="324.50" font-size="6.3" font-weight="bold" text-anchor="end" fill="#000" stroke="#000" stroke-width="0.15">0.0</text>
<line x1="37.30" y1="319.32" x2="38.50" y2="319.32" stroke="#000" stroke-width="0.6"/>
<line x1="37.30" y1="316.34" x2="38.50" y2="316.34" stroke="#000" stroke-width="0.6"/>
<line x1="37.30" y1="313.36" x2="38.50" y2="313.36" stroke="#000" stroke-width="0.6"/>
<line x1="37.30" y1="310.38" x2="38.50" y2="310.38" stroke="#000" stroke-width="0.6"/>
<line x1="37.30" y1="307.40" x2="38.50" y2="307.40" stroke="#000" stroke-width="0.6"/>
<line x1="37.30" y1="304.42" x2="38.50" y2="304.42" stroke="#000" stroke-width="0.6"/>
<line x1="37.30" y1="301.44" x2="38.50" y2="301.44" stroke="#000" stroke-width="0.6"/>
<line x1="37.30" y1="298.46" x2="38.50" y2="298.46" stroke="#000" stroke-width="0.6"/>
<line x1="37.30" y1="295.48" x2="38.50" y2="295.48" stroke="#000" stroke-width="0.6"/>
<line x1="37.30" y1="289.52" x2="38.50" y2="289.52" stroke="#000" stroke-width="0.6"/>
<line x1="37.30" y1="286.54" x2="38.50" y2="286.54" stroke="#000" stroke-width="0.6"/>
<line x1="37.30" y1="283.56" x2="38.50" y2="283.56" stroke="#000" stroke-width="0.6"/>
<line x1="37.30" y1="280.58" x2="38.50" y2="280.58" stroke="#000" stroke-width="0.6"/>
<line x1="37.30" y1="277.60" x2="38.50" y2="277.60" stroke="#000" stroke-width="0.6"/>
<line x1="37.30" y1="274.62" x2="38.50" y2="274.62" stroke="#000" stroke-width="0.6"/>
<line x1="37.30" y1="271.64" x2="38.50" y2="271.64" stroke="#000" stroke-width="0.6"/>
<line x1="37.30" y1="268.66" x2="38.50" y2="268.66" stroke="#000" stroke-width="0.6"/>
<line x1="37.30" y1="265.68" x2="38.50" y2="265.68" stroke="#000" stroke-width="0.6"/>
<line x1="37.30" y1="259.72" x2="38.50" y2="259.72" stroke="#000" stroke-width="0.6"/>
<line x1="37.30" y1="256.74" x2="38.50" y2="256.74" stroke="#000" stroke-width="0.6"/>
<line x1="37.30" y1="253.76" x2="38.50" y2="253.76" stroke="#000" stroke-width="0.6"/>
<line x1="37.30" y1="250.78" x2="38.50" y2="250.78" stroke="#000" stroke-width="0.6"/>
<line x1="37.30" y1="247.80" x2="38.50" y2="247.80" stroke="#000" stroke-width="0.6"/>
<line x1="37.30" y1="244.82" x2="38.50" y2="244.82" stroke="#000" stroke-width="0.6"/>
<line x1="37.30" y1="241.84" x2="38.50" y2="241.84" stroke="#000" stroke-width="0.6"/>
<line x1="37.30" y1="238.86" x2="38.50" y2="238.86" stroke="#000" stroke-width="0.6"/>
<line x1="37.30" y1="235.88" x2="38.50" y2="235.88" stroke="#000" stroke-width="0.6"/>
<line x1="38.50" y1="322.30" x2="98.00" y2="322.30" stroke="#000" stroke-width="0.95"/>
<text x="68.80" y="235.90" font-size="7.4" font-weight="bold" text-anchor="middle" fill="#000" stroke="#000" stroke-width="0.15">CD163</text>
<rect x="47.40" y="262.70" width="16.20" height="59.60" fill="#fff" stroke="#000" stroke-width="0.95"/>
<circle cx="49.60" cy="262.70" r="0.95" fill="#111" stroke="none" stroke-width="1"/>
<circle cx="52.55" cy="262.70" r="0.95" fill="#111" stroke="none" stroke-width="1"/>
<circle cx="55.50" cy="262.70" r="0.95" fill="#111" stroke="none" stroke-width="1"/>
<circle cx="58.45" cy="262.70" r="0.95" fill="#111" stroke="none" stroke-width="1"/>
<circle cx="61.40" cy="262.70" r="0.95" fill="#111" stroke="none" stroke-width="1"/>
<rect x="72.80" y="294.20" width="17.10" height="28.10" fill="#fff" stroke="#000" stroke-width="0.95"/>
<line x1="81.35" y1="289.60" x2="81.35" y2="300.40" stroke="#000" stroke-width="0.95"/>
<line x1="78.15" y1="289.60" x2="84.55" y2="289.60" stroke="#000" stroke-width="0.95"/>
<line x1="78.15" y1="300.40" x2="84.55" y2="300.40" stroke="#000" stroke-width="0.95"/>
<circle cx="81.35" cy="278.00" r="1.15" fill="#000" stroke="none" stroke-width="1"/>
<circle cx="81.35" cy="292.00" r="1.15" fill="#000" stroke="none" stroke-width="1"/>
<circle cx="81.35" cy="306.40" r="1.15" fill="#000" stroke="none" stroke-width="1"/>
<text x="81.35" y="274.80" font-size="8.5" font-weight="bold" text-anchor="middle" fill="#000" stroke="#000" stroke-width="0.15">**</text>
<line x1="55.50" y1="322.30" x2="55.50" y2="324.10" stroke="#000" stroke-width="0.8"/>
<line x1="81.35" y1="322.30" x2="81.35" y2="324.10" stroke="#000" stroke-width="0.8"/>
<text x="56.50" y="329.00" font-size="6.8" font-weight="bold" text-anchor="end" fill="#000" stroke="#000" stroke-width="0.15" transform="rotate(-45 56.50 329.00)">hIgG4</text>
<text x="82.15" y="329.00" font-size="6.8" font-weight="bold" text-anchor="end" fill="#000" stroke="#000" stroke-width="0.15" transform="rotate(-45 82.15 329.00)">Anti-LILRB2</text>
<text x="19.70" y="274.30" font-size="6.2" font-weight="bold" text-anchor="middle" fill="#000" stroke="#000" stroke-width="0.15" textLength="51.6" lengthAdjust="spacingAndGlyphs" transform="rotate(-90 19.70 274.30)">MFI (normalized)</text>
<line x1="124.60" y1="232.50" x2="124.60" y2="322.70" stroke="#000" stroke-width="0.95"/>
<line x1="122.30" y1="232.90" x2="124.60" y2="232.90" stroke="#000" stroke-width="0.95"/>
<text x="122.40" y="235.10" font-size="6.3" font-weight="bold" text-anchor="end" fill="#000" stroke="#000" stroke-width="0.15">1.5</text>
<line x1="122.30" y1="262.70" x2="124.60" y2="262.70" stroke="#000" stroke-width="0.95"/>
<text x="122.40" y="264.90" font-size="6.3" font-weight="bold" text-anchor="end" fill="#000" stroke="#000" stroke-width="0.15">1.0</text>
<line x1="122.30" y1="292.50" x2="124.60" y2="292.50" stroke="#000" stroke-width="0.95"/>
<text x="122.40" y="294.70" font-size="6.3" font-weight="bold" text-anchor="end" fill="#000" stroke="#000" stroke-width="0.15">0.5</text>
<line x1="122.30" y1="322.30" x2="124.60" y2="322.30" stroke="#000" stroke-width="0.95"/>
<text x="122.40" y="324.50" font-size="6.3" font-weight="bold" text-anchor="end" fill="#000" stroke="#000" stroke-width="0.15">0.0</text>
<line x1="123.40" y1="319.32" x2="124.60" y2="319.32" stroke="#000" stroke-width="0.6"/>
<line x1="123.40" y1="316.34" x2="124.60" y2="316.34" stroke="#000" stroke-width="0.6"/>
<line x1="123.40" y1="313.36" x2="124.60" y2="313.36" stroke="#000" stroke-width="0.6"/>
<line x1="123.40" y1="310.38" x2="124.60" y2="310.38" stroke="#000" stroke-width="0.6"/>
<line x1="123.40" y1="307.40" x2="124.60" y2="307.40" stroke="#000" stroke-width="0.6"/>
<line x1="123.40" y1="304.42" x2="124.60" y2="304.42" stroke="#000" stroke-width="0.6"/>
<line x1="123.40" y1="301.44" x2="124.60" y2="301.44" stroke="#000" stroke-width="0.6"/>
<line x1="123.40" y1="298.46" x2="124.60" y2="298.46" stroke="#000" stroke-width="0.6"/>
<line x1="123.40" y1="295.48" x2="124.60" y2="295.48" stroke="#000" stroke-width="0.6"/>
<line x1="123.40" y1="289.52" x2="124.60" y2="289.52" stroke="#000" stroke-width="0.6"/>
<line x1="123.40" y1="286.54" x2="124.60" y2="286.54" stroke="#000" stroke-width="0.6"/>
<line x1="123.40" y1="283.56" x2="124.60" y2="283.56" stroke="#000" stroke-width="0.6"/>
<line x1="123.40" y1="280.58" x2="124.60" y2="280.58" stroke="#000" stroke-width="0.6"/>
<line x1="123.40" y1="277.60" x2="124.60" y2="277.60" stroke="#000" stroke-width="0.6"/>
<line x1="123.40" y1="274.62" x2="124.60" y2="274.62" stroke="#000" stroke-width="0.6"/>
<line x1="123.40" y1="271.64" x2="124.60" y2="271.64" stroke="#000" stroke-width="0.6"/>
<line x1="123.40" y1="268.66" x2="124.60" y2="268.66" stroke="#000" stroke-width="0.6"/>
<line x1="123.40" y1="265.68" x2="124.60" y2="265.68" stroke="#000" stroke-width="0.6"/>
<line x1="123.40" y1="259.72" x2="124.60" y2="259.72" stroke="#000" stroke-width="0.6"/>
<line x1="123.40" y1="256.74" x2="124.60" y2="256.74" stroke="#000" stroke-width="0.6"/>
<line x1="123.40" y1="253.76" x2="124.60" y2="253.76" stroke="#000" stroke-width="0.6"/>
<line x1="123.40" y1="250.78" x2="124.60" y2="250.78" stroke="#000" stroke-width="0.6"/>
<line x1="123.40" y1="247.80" x2="124.60" y2="247.80" stroke="#000" stroke-width="0.6"/>
<line x1="123.40" y1="244.82" x2="124.60" y2="244.82" stroke="#000" stroke-width="0.6"/>
<line x1="123.40" y1="241.84" x2="124.60" y2="241.84" stroke="#000" stroke-width="0.6"/>
<line x1="123.40" y1="238.86" x2="124.60" y2="238.86" stroke="#000" stroke-width="0.6"/>
<line x1="123.40" y1="235.88" x2="124.60" y2="235.88" stroke="#000" stroke-width="0.6"/>
<line x1="124.60" y1="322.30" x2="184.10" y2="322.30" stroke="#000" stroke-width="0.95"/>
<text x="157.80" y="235.90" font-size="7.4" font-weight="bold" text-anchor="middle" fill="#000" stroke="#000" stroke-width="0.15">CD14</text>
<rect x="133.50" y="262.70" width="16.80" height="59.60" fill="#fff" stroke="#000" stroke-width="0.95"/>
<circle cx="135.70" cy="262.70" r="0.95" fill="#111" stroke="none" stroke-width="1"/>
<circle cx="138.80" cy="262.70" r="0.95" fill="#111" stroke="none" stroke-width="1"/>
<circle cx="141.90" cy="262.70" r="0.95" fill="#111" stroke="none" stroke-width="1"/>
<circle cx="145.00" cy="262.70" r="0.95" fill="#111" stroke="none" stroke-width="1"/>
<circle cx="148.10" cy="262.70" r="0.95" fill="#111" stroke="none" stroke-width="1"/>
<rect x="159.70" y="288.80" width="16.50" height="33.50" fill="#fff" stroke="#000" stroke-width="0.95"/>
<line x1="167.95" y1="282.90" x2="167.95" y2="295.00" stroke="#000" stroke-width="0.95"/>
<line x1="164.75" y1="282.90" x2="171.15" y2="282.90" stroke="#000" stroke-width="0.95"/>
<line x1="164.75" y1="295.00" x2="171.15" y2="295.00" stroke="#000" stroke-width="0.95"/>
<circle cx="167.95" cy="276.60" r="1.15" fill="#000" stroke="none" stroke-width="1"/>
<circle cx="167.95" cy="300.40" r="1.15" fill="#000" stroke="none" stroke-width="1"/>
<circle cx="167.95" cy="308.50" r="1.15" fill="#000" stroke="none" stroke-width="1"/>
<text x="167.95" y="274.20" font-size="8.5" font-weight="bold" text-anchor="middle" fill="#000" stroke="#000" stroke-width="0.15">*</text>
<line x1="141.90" y1="322.30" x2="141.90" y2="324.10" stroke="#000" stroke-width="0.8"/>
<line x1="167.95" y1="322.30" x2="167.95" y2="324.10" stroke="#000" stroke-width="0.8"/>
<text x="142.90" y="329.00" font-size="6.8" font-weight="bold" text-anchor="end" fill="#000" stroke="#000" stroke-width="0.15" transform="rotate(-45 142.90 329.00)">hIgG4</text>
<text x="168.75" y="329.00" font-size="6.8" font-weight="bold" text-anchor="end" fill="#000" stroke="#000" stroke-width="0.15" transform="rotate(-45 168.75 329.00)">Anti-LILRB2</text>
<text x="106.50" y="275.50" font-size="6.2" font-weight="bold" text-anchor="middle" fill="#000" stroke="#000" stroke-width="0.15" textLength="51.6" lengthAdjust="spacingAndGlyphs" transform="rotate(-90 106.50 275.50)">MFI (normalized)</text>
<line x1="218.10" y1="240.80" x2="218.10" y2="320.60" stroke="#333" stroke-width="0.85"/>
<line x1="216.10" y1="241.20" x2="218.10" y2="241.20" stroke="#333" stroke-width="0.8"/>
<text x="216.20" y="243.20" font-size="5.6" font-weight="bold" text-anchor="end" stroke="#111" stroke-width="0.15">40</text>
<line x1="216.10" y1="260.90" x2="218.10" y2="260.90" stroke="#333" stroke-width="0.8"/>
<text x="216.20" y="262.90" font-size="5.6" font-weight="bold" text-anchor="end" stroke="#111" stroke-width="0.15">30</text>
<line x1="216.10" y1="280.90" x2="218.10" y2="280.90" stroke="#333" stroke-width="0.8"/>
<text x="216.20" y="282.90" font-size="5.6" font-weight="bold" text-anchor="end" stroke="#111" stroke-width="0.15">20</text>
<line x1="216.10" y1="300.90" x2="218.10" y2="300.90" stroke="#333" stroke-width="0.8"/>
<text x="216.20" y="302.90" font-size="5.6" font-weight="bold" text-anchor="end" stroke="#111" stroke-width="0.15">10</text>
<line x1="216.10" y1="320.50" x2="218.10" y2="320.50" stroke="#333" stroke-width="0.8"/>
<text x="216.20" y="322.50" font-size="5.6" font-weight="bold" text-anchor="end" stroke="#111" stroke-width="0.15">0</text>
<line x1="218.10" y1="320.50" x2="313.30" y2="320.50" stroke="#333" stroke-width="0.85"/>
<text x="265.40" y="231.20" font-size="7" font-weight="bold" text-anchor="middle" stroke="#111" stroke-width="0.15" textLength="28.2" lengthAdjust="spacingAndGlyphs">pSTAT3</text>
<rect x="232.50" y="274.50" width="25.80" height="46.00" fill="#fff" stroke="#555" stroke-width="0.85"/>
<rect x="272.30" y="311.60" width="27.40" height="8.90" fill="#fff" stroke="#444" stroke-width="0.85"/>
<line x1="245.40" y1="261.80" x2="245.40" y2="274.50" stroke="#333" stroke-width="0.85"/>
<line x1="239.20" y1="261.80" x2="251.80" y2="261.80" stroke="#333" stroke-width="0.85"/>
<line x1="285.80" y1="302.50" x2="285.80" y2="311.60" stroke="#333" stroke-width="0.85"/>
<line x1="279.20" y1="302.50" x2="292.50" y2="302.50" stroke="#333" stroke-width="0.85"/>
<line x1="246.30" y1="259.60" x2="285.30" y2="259.60" stroke="#222" stroke-width="0.85"/>
<text x="265.50" y="258.00" font-size="8.5" font-weight="bold" text-anchor="middle" stroke="#111" stroke-width="0.15">*</text>
<line x1="245.40" y1="320.50" x2="245.40" y2="322.40" stroke="#333" stroke-width="0.7"/>
<line x1="285.80" y1="320.50" x2="285.80" y2="322.40" stroke="#333" stroke-width="0.7"/>
<text x="246.40" y="329.20" font-size="6.8" font-weight="bold" text-anchor="end" stroke="#111" stroke-width="0.15" transform="rotate(-45 246.40 329.20)">hIgG4</text>
<text x="287.40" y="329.40" font-size="6.8" font-weight="bold" text-anchor="end" stroke="#111" stroke-width="0.15" transform="rotate(-45 287.40 329.40)">Anti-LILRB2</text>
<text x="201.70" y="281.40" font-size="6.5" font-weight="bold" text-anchor="middle" stroke="#111" stroke-width="0.15" textLength="52.8" lengthAdjust="spacingAndGlyphs" transform="rotate(-90 201.70 281.40)">pg/1 million cells</text>
<line x1="351.40" y1="229.60" x2="351.40" y2="237.60" stroke="#000" stroke-width="0.95"/>
<line x1="351.40" y1="239.30" x2="351.40" y2="319.20" stroke="#000" stroke-width="0.95"/>
<line x1="350.00" y1="238.10" x2="352.80" y2="237.10" stroke="#111" stroke-width="0.6"/>
<line x1="350.00" y1="239.80" x2="352.80" y2="238.80" stroke="#111" stroke-width="0.6"/>
<line x1="349.40" y1="229.90" x2="351.40" y2="229.90" stroke="#000" stroke-width="0.9"/>
<text x="349.00" y="232.50" font-size="7.4" font-weight="bold" text-anchor="end" fill="#000" stroke="#000" stroke-width="0.15">40</text>
<line x1="349.40" y1="242.00" x2="351.40" y2="242.00" stroke="#000" stroke-width="0.9"/>
<text x="349.00" y="244.60" font-size="7.4" font-weight="bold" text-anchor="end" fill="#000" stroke="#000" stroke-width="0.15">10</text>
<line x1="349.40" y1="257.50" x2="351.40" y2="257.50" stroke="#000" stroke-width="0.9"/>
<text x="349.00" y="260.10" font-size="7.4" font-weight="bold" text-anchor="end" fill="#000" stroke="#000" stroke-width="0.15">8</text>
<line x1="349.40" y1="272.60" x2="351.40" y2="272.60" stroke="#000" stroke-width="0.9"/>
<text x="349.00" y="275.20" font-size="7.4" font-weight="bold" text-anchor="end" fill="#000" stroke="#000" stroke-width="0.15">6</text>
<line x1="349.40" y1="288.50" x2="351.40" y2="288.50" stroke="#000" stroke-width="0.9"/>
<text x="349.00" y="291.10" font-size="7.4" font-weight="bold" text-anchor="end" fill="#000" stroke="#000" stroke-width="0.15">4</text>
<line x1="349.40" y1="303.60" x2="351.40" y2="303.60" stroke="#000" stroke-width="0.9"/>
<text x="349.00" y="306.20" font-size="7.4" font-weight="bold" text-anchor="end" fill="#000" stroke="#000" stroke-width="0.15">2</text>
<line x1="349.40" y1="318.80" x2="351.40" y2="318.80" stroke="#000" stroke-width="0.9"/>
<text x="349.00" y="321.40" font-size="7.4" font-weight="bold" text-anchor="end" fill="#000" stroke="#000" stroke-width="0.15">0</text>
<line x1="351.40" y1="319.00" x2="417.00" y2="319.00" stroke="#111" stroke-width="0.9"/>
<text x="326.30" y="277.00" font-size="7.2" font-weight="bold" text-anchor="middle" stroke="#111" stroke-width="0.15" transform="rotate(-90 326.30 277.00)">IFNγ</text>
<text x="332.90" y="274.90" font-size="7.2" font-weight="bold" text-anchor="middle" stroke="#111" stroke-width="0.15" textLength="81.9" lengthAdjust="spacingAndGlyphs" transform="rotate(-90 332.90 274.90)">(fold change to Isotype)</text>
<rect x="356.80" y="311.00" width="9.70" height="8.00" fill="#fff" stroke="#111" stroke-width="0.85"/>
<line x1="361.65" y1="319.00" x2="361.65" y2="321.00" stroke="#111" stroke-width="0.7"/>
<rect x="371.90" y="305.50" width="10.00" height="13.50" fill="#fff" stroke="#111" stroke-width="0.85"/>
<line x1="376.90" y1="302.50" x2="376.90" y2="308.50" stroke="#111" stroke-width="0.85"/>
<line x1="374.30" y1="302.50" x2="379.50" y2="302.50" stroke="#111" stroke-width="0.85"/>
<line x1="374.30" y1="308.50" x2="379.50" y2="308.50" stroke="#111" stroke-width="0.85"/>
<line x1="376.90" y1="319.00" x2="376.90" y2="321.00" stroke="#111" stroke-width="0.7"/>
<rect x="386.50" y="299.30" width="9.70" height="19.70" fill="#fff" stroke="#111" stroke-width="0.85"/>
<line x1="391.35" y1="295.80" x2="391.35" y2="303.40" stroke="#111" stroke-width="0.85"/>
<line x1="388.75" y1="295.80" x2="393.95" y2="295.80" stroke="#111" stroke-width="0.85"/>
<line x1="388.75" y1="303.40" x2="393.95" y2="303.40" stroke="#111" stroke-width="0.85"/>
<line x1="391.35" y1="319.00" x2="391.35" y2="321.00" stroke="#111" stroke-width="0.7"/>
<rect x="401.60" y="281.80" width="10.00" height="37.20" fill="#fff" stroke="#111" stroke-width="0.85"/>
<line x1="406.60" y1="266.90" x2="406.60" y2="295.30" stroke="#111" stroke-width="0.85"/>
<line x1="404.00" y1="266.90" x2="409.20" y2="266.90" stroke="#111" stroke-width="0.85"/>
<line x1="404.00" y1="295.30" x2="409.20" y2="295.30" stroke="#111" stroke-width="0.85"/>
<line x1="406.60" y1="319.00" x2="406.60" y2="321.00" stroke="#111" stroke-width="0.7"/>
<line x1="356.80" y1="311.00" x2="366.50" y2="311.00" stroke="#111" stroke-width="1.8"/>
<circle cx="377.59" cy="295.70" r="0.85" fill="#111" stroke="none" stroke-width="1"/>
<circle cx="378.25" cy="297.00" r="0.85" fill="#111" stroke="none" stroke-width="1"/>
<circle cx="378.55" cy="299.30" r="0.85" fill="#111" stroke="none" stroke-width="1"/>
<circle cx="379.38" cy="301.00" r="0.85" fill="#111" stroke="none" stroke-width="1"/>
<circle cx="378.24" cy="302.50" r="0.85" fill="#111" stroke="none" stroke-width="1"/>
<circle cx="379.27" cy="304.00" r="0.85" fill="#111" stroke="none" stroke-width="1"/>
<circle cx="374.26" cy="305.50" r="0.85" fill="#111" stroke="none" stroke-width="1"/>
<circle cx="376.71" cy="306.50" r="0.85" fill="#111" stroke="none" stroke-width="1"/>
<circle cx="379.38" cy="307.50" r="0.85" fill="#111" stroke="none" stroke-width="1"/>
<circle cx="377.73" cy="308.50" r="0.85" fill="#111" stroke="none" stroke-width="1"/>
<circle cx="379.15" cy="309.50" r="0.85" fill="#111" stroke="none" stroke-width="1"/>
<circle cx="374.73" cy="310.50" r="0.85" fill="#111" stroke="none" stroke-width="1"/>
<circle cx="376.73" cy="311.50" r="0.85" fill="#111" stroke="none" stroke-width="1"/>
<circle cx="375.48" cy="312.50" r="0.85" fill="#111" stroke="none" stroke-width="1"/>
<circle cx="377.15" cy="313.50" r="0.85" fill="#111" stroke="none" stroke-width="1"/>
<circle cx="377.31" cy="314.50" r="0.85" fill="#111" stroke="none" stroke-width="1"/>
<circle cx="374.17" cy="315.50" r="0.85" fill="#111" stroke="none" stroke-width="1"/>
<circle cx="375.31" cy="316.50" r="0.85" fill="#111" stroke="none" stroke-width="1"/>
<circle cx="390.20" cy="268.90" r="0.85" fill="#111" stroke="none" stroke-width="1"/>
<circle cx="393.51" cy="278.70" r="0.85" fill="#111" stroke="none" stroke-width="1"/>
<circle cx="392.73" cy="284.00" r="0.85" fill="#111" stroke="none" stroke-width="1"/>
<circle cx="389.58" cy="287.20" r="0.85" fill="#111" stroke="none" stroke-width="1"/>
<circle cx="392.90" cy="289.00" r="0.85" fill="#111" stroke="none" stroke-width="1"/>
<circle cx="389.47" cy="292.00" r="0.85" fill="#111" stroke="none" stroke-width="1"/>
<circle cx="391.96" cy="294.00" r="0.85" fill="#111" stroke="none" stroke-width="1"/>
<circle cx="389.41" cy="296.00" r="0.85" fill="#111" stroke="none" stroke-width="1"/>
<circle cx="388.76" cy="298.00" r="0.85" fill="#111" stroke="none" stroke-width="1"/>
<circle cx="393.28" cy="300.00" r="0.85" fill="#111" stroke="none" stroke-width="1"/>
<circle cx="389.84" cy="302.00" r="0.85" fill="#111" stroke="none" stroke-width="1"/>
<circle cx="389.87" cy="304.00" r="0.85" fill="#111" stroke="none" stroke-width="1"/>
<circle cx="393.86" cy="306.00" r="0.85" fill="#111" stroke="none" stroke-width="1"/>
<circle cx="393.29" cy="308.00" r="0.85" fill="#111" stroke="none" stroke-width="1"/>
<circle cx="390.25" cy="310.00" r="0.85" fill="#111" stroke="none" stroke-width="1"/>
<circle cx="393.75" cy="312.00" r="0.85" fill="#111" stroke="none" stroke-width="1"/>
<circle cx="406.60" cy="244.60" r="0.85" fill="#111" stroke="none" stroke-width="1"/>
<circle cx="406.60" cy="247.50" r="0.85" fill="#111" stroke="none" stroke-width="1"/>
<circle cx="406.60" cy="251.40" r="0.85" fill="#111" stroke="none" stroke-width="1"/>
<circle cx="406.60" cy="255.50" r="0.85" fill="#111" stroke="none" stroke-width="1"/>
<circle cx="406.60" cy="259.20" r="0.85" fill="#111" stroke="none" stroke-width="1"/>
<circle cx="406.79" cy="286.00" r="0.85" fill="#111" stroke="none" stroke-width="1"/>
<circle cx="407.45" cy="289.00" r="0.85" fill="#111" stroke="none" stroke-width="1"/>
<circle cx="405.18" cy="292.00" r="0.85" fill="#111" stroke="none" stroke-width="1"/>
<circle cx="408.72" cy="296.00" r="0.85" fill="#111" stroke="none" stroke-width="1"/>
<circle cx="407.52" cy="299.00" r="0.85" fill="#111" stroke="none" stroke-width="1"/>
<circle cx="408.84" cy="302.00" r="0.85" fill="#111" stroke="none" stroke-width="1"/>
<circle cx="408.49" cy="309.00" r="0.85" fill="#111" stroke="none" stroke-width="1"/>
<circle cx="405.63" cy="312.00" r="0.85" fill="#111" stroke="none" stroke-width="1"/>
<path d="M405.20,236.10 L406.60,238.30 L408.00,236.10" fill="none" stroke="#111" stroke-width="0.9"/>
<path d="M403.80,304.30 L405.20,306.50 L406.60,304.30" fill="none" stroke="#111" stroke-width="0.9"/>
<path d="M406.40,300.90 L407.80,303.10 L409.20,300.90" fill="none" stroke="#111" stroke-width="0.9"/>
<path d="M375.20,294.70 L376.40,292.70 L377.60,294.70Z" fill="none" stroke="#111" stroke-width="0.7"/>
<path d="M376.40,298.80 L377.60,296.80 L378.80,298.80Z" fill="none" stroke="#111" stroke-width="0.7"/>
<text x="391.35" y="317.60" font-size="3.2" text-anchor="middle" fill="#444">2.6</text>
<text x="406.60" y="317.60" font-size="3.2" text-anchor="middle" fill="#444">4.8</text>
<text x="361.65" y="317.60" font-size="3.2" text-anchor="middle" fill="#444">1.0</text>
<line x1="390.50" y1="265.20" x2="390.50" y2="229.40" stroke="#111" stroke-width="0.75"/>
<line x1="390.50" y1="229.40" x2="406.50" y2="229.40" stroke="#111" stroke-width="0.75"/>
<line x1="406.50" y1="229.40" x2="406.50" y2="233.30" stroke="#111" stroke-width="0.75"/>
<text x="398.40" y="232.30" font-size="7" font-weight="bold" text-anchor="middle" stroke="#111" stroke-width="0.15">**</text>
<text x="362.40" y="326.40" font-size="6.7" font-weight="bold" text-anchor="end" stroke="#111" stroke-width="0.15" transform="rotate(-45 362.40 326.40)">Iso</text>
<text x="378.60" y="326.30" font-size="6.7" font-weight="bold" text-anchor="end" stroke="#111" stroke-width="0.15" transform="rotate(-45 378.60 326.30)">JTX-8064</text>
<text x="393.10" y="326.30" font-size="6.7" font-weight="bold" text-anchor="end" stroke="#111" stroke-width="0.15" transform="rotate(-45 393.10 326.30)">Anti-PD1</text>
<text x="407.60" y="326.30" font-size="6.7" font-weight="bold" text-anchor="end" stroke="#111" stroke-width="0.15" transform="rotate(-45 407.60 326.30)">JTX8064+Anti-PD1</text>
<line x1="457.90" y1="232.80" x2="457.90" y2="249.30" stroke="#111" stroke-width="0.9"/>
<line x1="457.90" y1="252.00" x2="457.90" y2="319.40" stroke="#111" stroke-width="0.9"/>
<line x1="456.10" y1="234.00" x2="457.90" y2="234.00" stroke="#111" stroke-width="0.7"/>
<text x="455.80" y="236.20" font-size="6.2" font-weight="bold" text-anchor="end" stroke="#111" stroke-width="0.15">32</text>
<line x1="456.10" y1="237.90" x2="457.90" y2="237.90" stroke="#111" stroke-width="0.7"/>
<text x="455.80" y="240.10" font-size="6.2" font-weight="bold" text-anchor="end" stroke="#111" stroke-width="0.15">24</text>
<line x1="456.10" y1="241.60" x2="457.90" y2="241.60" stroke="#111" stroke-width="0.7"/>
<text x="455.80" y="243.80" font-size="6.2" font-weight="bold" text-anchor="end" stroke="#111" stroke-width="0.15">20</text>
<line x1="456.10" y1="245.50" x2="457.90" y2="245.50" stroke="#111" stroke-width="0.7"/>
<text x="455.80" y="247.70" font-size="6.2" font-weight="bold" text-anchor="end" stroke="#111" stroke-width="0.15">16</text>
<line x1="455.70" y1="259.70" x2="457.90" y2="259.70" stroke="#111" stroke-width="0.9"/>
<text x="455.10" y="262.30" font-size="7.4" font-weight="bold" text-anchor="end" stroke="#111" stroke-width="0.15">9</text>
<line x1="455.70" y1="280.10" x2="457.90" y2="280.10" stroke="#111" stroke-width="0.9"/>
<text x="455.10" y="282.70" font-size="7.4" font-weight="bold" text-anchor="end" stroke="#111" stroke-width="0.15">6</text>
<line x1="455.70" y1="299.70" x2="457.90" y2="299.70" stroke="#111" stroke-width="0.9"/>
<text x="455.10" y="302.30" font-size="7.4" font-weight="bold" text-anchor="end" stroke="#111" stroke-width="0.15">3</text>
<line x1="455.70" y1="319.40" x2="457.90" y2="319.40" stroke="#111" stroke-width="0.9"/>
<text x="455.10" y="322.00" font-size="7.4" font-weight="bold" text-anchor="end" stroke="#111" stroke-width="0.15">0</text>
<line x1="457.90" y1="319.40" x2="492.70" y2="319.40" stroke="#111" stroke-width="0.9"/>
<line x1="467.90" y1="319.40" x2="467.90" y2="321.40" stroke="#111" stroke-width="0.7"/>
<line x1="482.50" y1="319.40" x2="482.50" y2="321.40" stroke="#111" stroke-width="0.7"/>
<text x="431.90" y="276.30" font-size="7.2" font-weight="bold" text-anchor="middle" stroke="#111" stroke-width="0.15" transform="rotate(-90 431.90 276.30)">IFNγ</text>
<text x="439.00" y="274.90" font-size="7.2" font-weight="bold" text-anchor="middle" stroke="#111" stroke-width="0.15" textLength="81.9" lengthAdjust="spacingAndGlyphs" transform="rotate(-90 439.00 274.90)">(fold change to Isotype)</text>
<line x1="467.70" y1="274.00" x2="467.70" y2="239.60" stroke="#111" stroke-width="0.75"/>
<line x1="467.70" y1="239.60" x2="482.40" y2="239.60" stroke="#111" stroke-width="0.75"/>
<line x1="482.40" y1="239.60" x2="482.40" y2="241.60" stroke="#111" stroke-width="0.75"/>
<text x="474.90" y="240.80" font-size="6" font-weight="bold" text-anchor="middle" stroke="#111" stroke-width="0.15">***</text>
<line x1="467.70" y1="276.40" x2="482.40" y2="244.20" stroke="#b8844c" stroke-width="0.75"/>
<line x1="467.70" y1="279.80" x2="482.40" y2="246.50" stroke="#b8844c" stroke-width="0.75"/>
<line x1="467.70" y1="290.00" x2="482.40" y2="253.40" stroke="#b8844c" stroke-width="0.75"/>
<line x1="467.70" y1="291.50" x2="482.40" y2="256.80" stroke="#b8844c" stroke-width="0.75"/>
<line x1="467.70" y1="293.00" x2="482.40" y2="258.00" stroke="#b8844c" stroke-width="0.75"/>
<line x1="467.70" y1="294.50" x2="482.40" y2="260.30" stroke="#b8844c" stroke-width="0.75"/>
<line x1="467.70" y1="296.00" x2="482.40" y2="264.90" stroke="#b8844c" stroke-width="0.75"/>
<line x1="467.70" y1="298.00" x2="482.40" y2="262.00" stroke="#b8844c" stroke-width="0.75"/>
<line x1="467.70" y1="297.50" x2="482.40" y2="275.20" stroke="#b8844c" stroke-width="0.75"/>
<line x1="467.70" y1="299.00" x2="482.40" y2="277.50" stroke="#b8844c" stroke-width="0.75"/>
<line x1="467.70" y1="301.00" x2="482.40" y2="270.00" stroke="#b8844c" stroke-width="0.75"/>
<line x1="467.70" y1="300.50" x2="482.40" y2="289.00" stroke="#b8844c" stroke-width="0.75"/>
<line x1="467.70" y1="302.00" x2="482.40" y2="290.20" stroke="#b8844c" stroke-width="0.75"/>
<line x1="467.70" y1="303.50" x2="482.40" y2="301.70" stroke="#b8844c" stroke-width="0.75"/>
<line x1="467.70" y1="305.00" x2="482.40" y2="302.80" stroke="#b8844c" stroke-width="0.75"/>
<line x1="467.70" y1="306.50" x2="482.40" y2="304.00" stroke="#b8844c" stroke-width="0.75"/>
<line x1="467.70" y1="308.00" x2="482.40" y2="306.30" stroke="#b8844c" stroke-width="0.75"/>
<line x1="467.70" y1="309.00" x2="482.40" y2="308.60" stroke="#b8844c" stroke-width="0.75"/>
<line x1="467.70" y1="310.00" x2="482.40" y2="313.20" stroke="#b8844c" stroke-width="0.75"/>
<line x1="467.70" y1="307.00" x2="482.40" y2="296.00" stroke="#b8844c" stroke-width="0.75"/>
<line x1="467.70" y1="304.50" x2="482.40" y2="283.00" stroke="#b8844c" stroke-width="0.75"/>
<circle cx="467.70" cy="276.40" r="1.05" fill="#111" stroke="none" stroke-width="1"/>
<circle cx="482.40" cy="244.20" r="1.05" fill="#111" stroke="none" stroke-width="1"/>
<circle cx="467.70" cy="279.80" r="1.05" fill="#111" stroke="none" stroke-width="1"/>
<circle cx="482.40" cy="246.50" r="1.05" fill="#111" stroke="none" stroke-width="1"/>
<circle cx="467.70" cy="290.00" r="1.05" fill="#111" stroke="none" stroke-width="1"/>
<circle cx="482.40" cy="253.40" r="1.05" fill="#111" stroke="none" stroke-width="1"/>
<circle cx="467.70" cy="291.50" r="1.05" fill="#111" stroke="none" stroke-width="1"/>
<circle cx="482.40" cy="256.80" r="1.05" fill="#111" stroke="none" stroke-width="1"/>
<circle cx="467.70" cy="293.00" r="1.05" fill="#111" stroke="none" stroke-width="1"/>
<circle cx="482.40" cy="258.00" r="1.05" fill="#111" stroke="none" stroke-width="1"/>
<circle cx="467.70" cy="294.50" r="1.05" fill="#111" stroke="none" stroke-width="1"/>
<circle cx="482.40" cy="260.30" r="1.05" fill="#111" stroke="none" stroke-width="1"/>
<circle cx="467.70" cy="296.00" r="1.05" fill="#111" stroke="none" stroke-width="1"/>
<circle cx="482.40" cy="264.90" r="1.05" fill="#111" stroke="none" stroke-width="1"/>
<circle cx="467.70" cy="298.00" r="1.05" fill="#111" stroke="none" stroke-width="1"/>
<circle cx="482.40" cy="262.00" r="1.05" fill="#111" stroke="none" stroke-width="1"/>
<circle cx="467.70" cy="297.50" r="1.05" fill="#111" stroke="none" stroke-width="1"/>
<circle cx="482.40" cy="275.20" r="1.05" fill="#111" stroke="none" stroke-width="1"/>
<circle cx="467.70" cy="299.00" r="1.05" fill="#111" stroke="none" stroke-width="1"/>
<circle cx="482.40" cy="277.50" r="1.05" fill="#111" stroke="none" stroke-width="1"/>
<circle cx="467.70" cy="301.00" r="1.05" fill="#111" stroke="none" stroke-width="1"/>
<circle cx="482.40" cy="270.00" r="1.05" fill="#111" stroke="none" stroke-width="1"/>
<circle cx="467.70" cy="300.50" r="1.05" fill="#111" stroke="none" stroke-width="1"/>
<circle cx="482.40" cy="289.00" r="1.05" fill="#111" stroke="none" stroke-width="1"/>
<circle cx="467.70" cy="302.00" r="1.05" fill="#111" stroke="none" stroke-width="1"/>
<circle cx="482.40" cy="290.20" r="1.05" fill="#111" stroke="none" stroke-width="1"/>
<circle cx="467.70" cy="303.50" r="1.05" fill="#111" stroke="none" stroke-width="1"/>
<circle cx="482.40" cy="301.70" r="1.05" fill="#111" stroke="none" stroke-width="1"/>
<circle cx="467.70" cy="305.00" r="1.05" fill="#111" stroke="none" stroke-width="1"/>
<circle cx="482.40" cy="302.80" r="1.05" fill="#111" stroke="none" stroke-width="1"/>
<circle cx="467.70" cy="306.50" r="1.05" fill="#111" stroke="none" stroke-width="1"/>
<circle cx="482.40" cy="304.00" r="1.05" fill="#111" stroke="none" stroke-width="1"/>
<circle cx="467.70" cy="308.00" r="1.05" fill="#111" stroke="none" stroke-width="1"/>
<circle cx="482.40" cy="306.30" r="1.05" fill="#111" stroke="none" stroke-width="1"/>
<circle cx="467.70" cy="309.00" r="1.05" fill="#111" stroke="none" stroke-width="1"/>
<circle cx="482.40" cy="308.60" r="1.05" fill="#111" stroke="none" stroke-width="1"/>
<circle cx="467.70" cy="310.00" r="1.05" fill="#111" stroke="none" stroke-width="1"/>
<circle cx="482.40" cy="313.20" r="1.05" fill="#111" stroke="none" stroke-width="1"/>
<circle cx="467.70" cy="307.00" r="1.05" fill="#111" stroke="none" stroke-width="1"/>
<circle cx="482.40" cy="296.00" r="1.05" fill="#111" stroke="none" stroke-width="1"/>
<circle cx="467.70" cy="304.50" r="1.05" fill="#111" stroke="none" stroke-width="1"/>
<circle cx="482.40" cy="283.00" r="1.05" fill="#111" stroke="none" stroke-width="1"/>
<text x="468.60" y="326.90" font-size="6.3" font-weight="bold" text-anchor="end" stroke="#111" stroke-width="0.15" transform="rotate(-45 468.60 326.90)">Anti-PD1</text>
<text x="483.40" y="326.90" font-size="6.3" font-weight="bold" text-anchor="end" stroke="#111" stroke-width="0.15" transform="rotate(-45 483.40 326.90)">Anti-PD1+JTX-8064</text>
</svg>
</body></html>
